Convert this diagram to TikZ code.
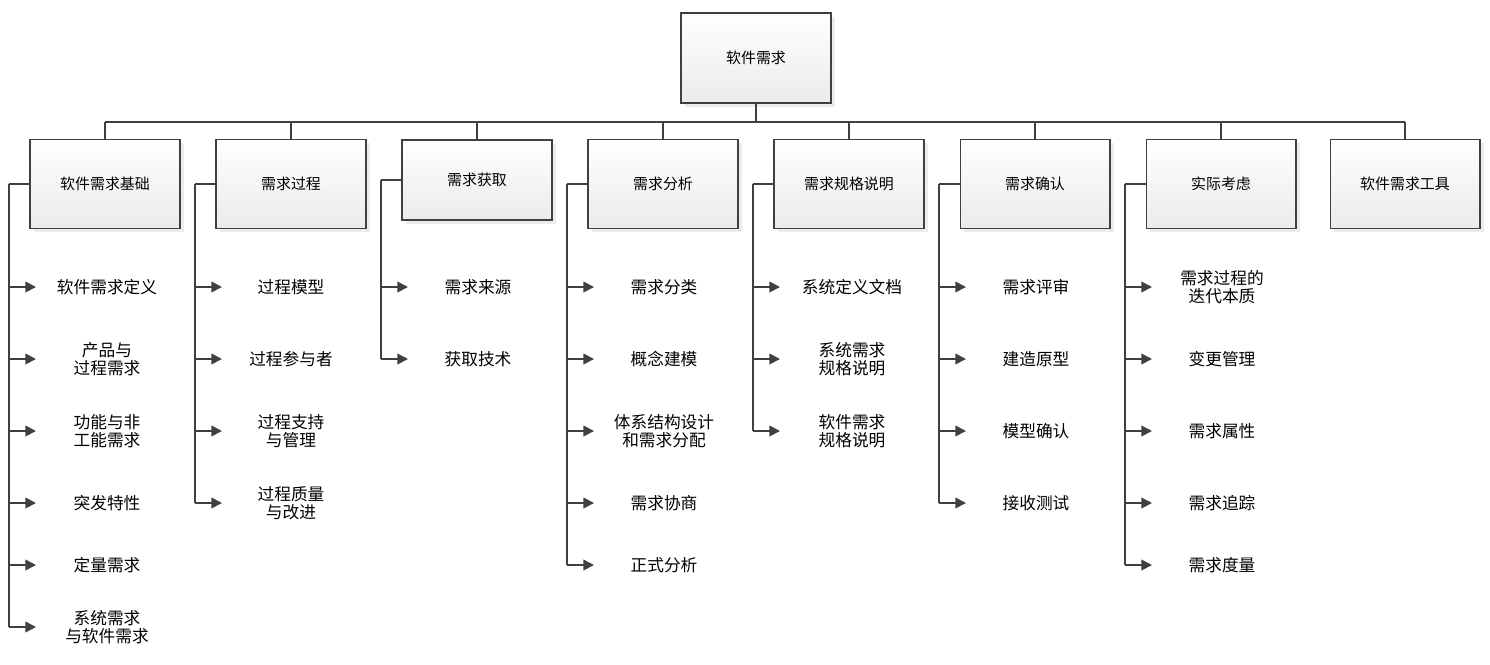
\documentclass[tikz,border=0pt]{standalone}
\usepackage{fontspec}
\newfontfamily\cjk{Noto Sans CJK SC}
\usetikzlibrary{arrows.meta,shadows}
\begin{document}
\begin{tikzpicture}[x=0.02cm,y=-0.02cm,
  box/.style={draw=black!75,line width=0.6pt,top color=white,bottom color=black!8,drop shadow={shadow xshift=2pt,shadow yshift=-2pt,opacity=0.15},minimum width=3cm,minimum height=1.78cm,font=\cjk\fontsize{8.5}{10}\selectfont,inner sep=0pt},
  leaf/.style={font=\cjk\fontsize{9.5}{10.5}\selectfont,align=center,inner sep=0pt},
  ln/.style={draw=black!75,line width=1pt},
  ar/.style={ln,-{Triangle[length=6pt,width=6pt]}}]
\useasboundingbox (0,0) rectangle (1490,664);
\node[box,minimum height=1.8cm] (root) at (756,58) {软件需求};
\foreach \i/\x/\t in {1/105/软件需求基础,2/291/需求过程,4/663/需求分析,5/849/需求规格说明,6/1035/需求确认,7/1221/实际考虑,8/1405/软件需求工具}
  \node[box] (b\i) at (\x,184) {\t};
\node[box,minimum height=1.6cm] (b3) at (477,180) {需求获取};
\coordinate (busL) at (105,122); \coordinate (busR) at (1405,122);
\draw[ln] (root.south) -- (756,122);
\draw[ln] (busL) -- (busR);
\foreach \i in {1,...,8} \draw[ln] (b\i.north |- busL) -- (b\i.north);
% children
\newcommand\branch[4]{% #1 box, #2 busx, #3 boxcenter x, #4 list
  \draw[ln] (#1.west |- 0,184) -- (#2,184);
  \foreach \y/\t [count=\k] in {#4} {
    \node[leaf] (#1c\k) at (#3,\y) {\t};
    \draw[ar] (#2,\y) -- (#2+27,\y);
    \xdef\lasty{\y}
  }
  \draw[ln] (#2,184) -- (#2,\lasty);
}
\branch{b1}{9}{107}{287/软件需求定义,359/{产品与\\过程需求},431/{功能与非\\工能需求},503/突发特性,565/定量需求,627/{系统需求\\与软件需求}}
\branch{b2}{195}{291}{287/过程模型,359/过程参与者,431/{过程支持\\与管理},503/{过程质量\\与改进}}
\draw[ln] (b3.west) -- (381,180);
\node[leaf] (b3c1) at (478,287) {需求来源};
\node[leaf] (b3c2) at (478,359) {获取技术};
\draw[ln] (381,180) -- (381,359);
\draw[ar] (381,287) -- (408,287);
\draw[ar] (381,359) -- (408,359);
\branch{b4}{567}{664}{287/需求分类,359/概念建模,431/{体系结构设计\\和需求分配},503/需求协商,565/正式分析}
\branch{b5}{753}{852}{287/系统定义文档,359/{系统需求\\规格说明},431/{软件需求\\规格说明}}
\branch{b6}{939}{1036}{287/需求评审,359/建造原型,431/模型确认,503/接收测试}
\branch{b7}{1125}{1222}{287/{需求过程的\\迭代本质},359/变更管理,431/需求属性,503/需求追踪,565/需求度量}
\end{tikzpicture}
\end{document}
